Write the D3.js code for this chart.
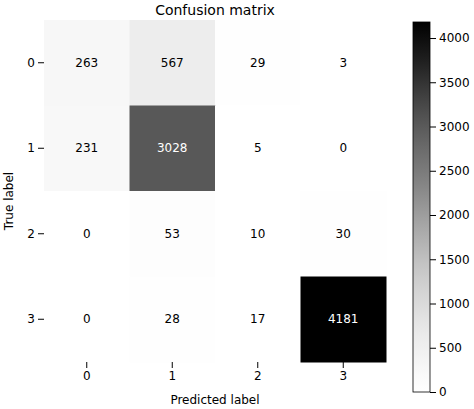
<!DOCTYPE html>
<html><head><meta charset="utf-8">
<script src="https://cdn.jsdelivr.net/npm/d3@7"></script>
<style>body{margin:0;background:#fff;font-family:"DejaVu Sans",sans-serif;}</style>
</head><body><svg id="c" width="474" height="409"></svg>
<script>
const classes = ["0","1","2","3"];
const matrix = [
  [263, 567, 29, 3],
  [231, 3028, 5, 0],
  [0, 53, 10, 30],
  [0, 28, 17, 4181]
];
const cbTicks = [0,500,1000,1500,2000,2500,3000,3500,4000];

const svg = d3.select("#c");
const L=44, T=20, S=342;
const vmax = d3.max(matrix.flat());
const color = v => d3.interpolateGreys(v / vmax);
const x = d3.scaleBand().domain(classes).range([L, L+S]);
const y = d3.scaleBand().domain(classes).range([T, T+S]);

matrix.forEach((row,i)=>row.forEach((v,j)=>{
  svg.append("rect").attr("x",x(classes[j])).attr("y",y(classes[i]))
    .attr("width",x.bandwidth()+0.5).attr("height",y.bandwidth()+0.5).attr("fill",color(v));
  svg.append("text").attr("x",x(classes[j])+x.bandwidth()/2).attr("y",y(classes[i])+y.bandwidth()/2)
    .attr("text-anchor","middle").attr("dominant-baseline","central").attr("font-size",12)
    .attr("fill", v > vmax/2 ? "#fff" : "#000").text(v);
}));

const xa = svg.append("g").attr("transform",`translate(0,${T+S})`).call(d3.axisBottom(x).tickSizeOuter(0));
const ya = svg.append("g").attr("transform",`translate(${L},0)`).call(d3.axisLeft(y).tickSizeOuter(0));
[xa,ya].forEach(a=>{a.select(".domain").remove();a.selectAll("text").attr("font-size",12).attr("fill","#000").attr("font-family","DejaVu Sans");});

svg.append("text").attr("x",L+S/2).attr("y",15).attr("text-anchor","middle").attr("font-size",14).text("Confusion matrix");
svg.append("text").attr("x",L+S/2).attr("y",404).attr("text-anchor","middle").attr("font-size",12).text("Predicted label");
svg.append("text").attr("transform",`translate(13,${T+S/2+10}) rotate(-90)`).attr("text-anchor","middle").attr("font-size",12).text("True label");

// colorbar
const cx=413, cw=17, cTop=22, cBot=392;
const cy = d3.scaleLinear().domain([0,vmax]).range([cBot,cTop]);
const defs = svg.append("defs");
const g = defs.append("linearGradient").attr("id","gr").attr("x1",0).attr("x2",0).attr("y1",1).attr("y2",0);
d3.range(0,1.001,0.05).forEach(t=>g.append("stop").attr("offset",t).attr("stop-color",d3.interpolateGreys(t)));
svg.append("rect").attr("x",cx).attr("y",cTop).attr("width",cw).attr("height",cBot-cTop)
  .attr("fill","url(#gr)").attr("stroke","#000").attr("stroke-width",0.8);
const ca = svg.append("g").attr("transform",`translate(${cx+cw},0)`).call(d3.axisRight(cy).tickValues(cbTicks).tickFormat(d3.format("d")).tickSizeOuter(0));
ca.select(".domain").remove();
ca.selectAll("text").attr("font-size",12).attr("fill","#000").attr("font-family","DejaVu Sans");
</script></body></html>
